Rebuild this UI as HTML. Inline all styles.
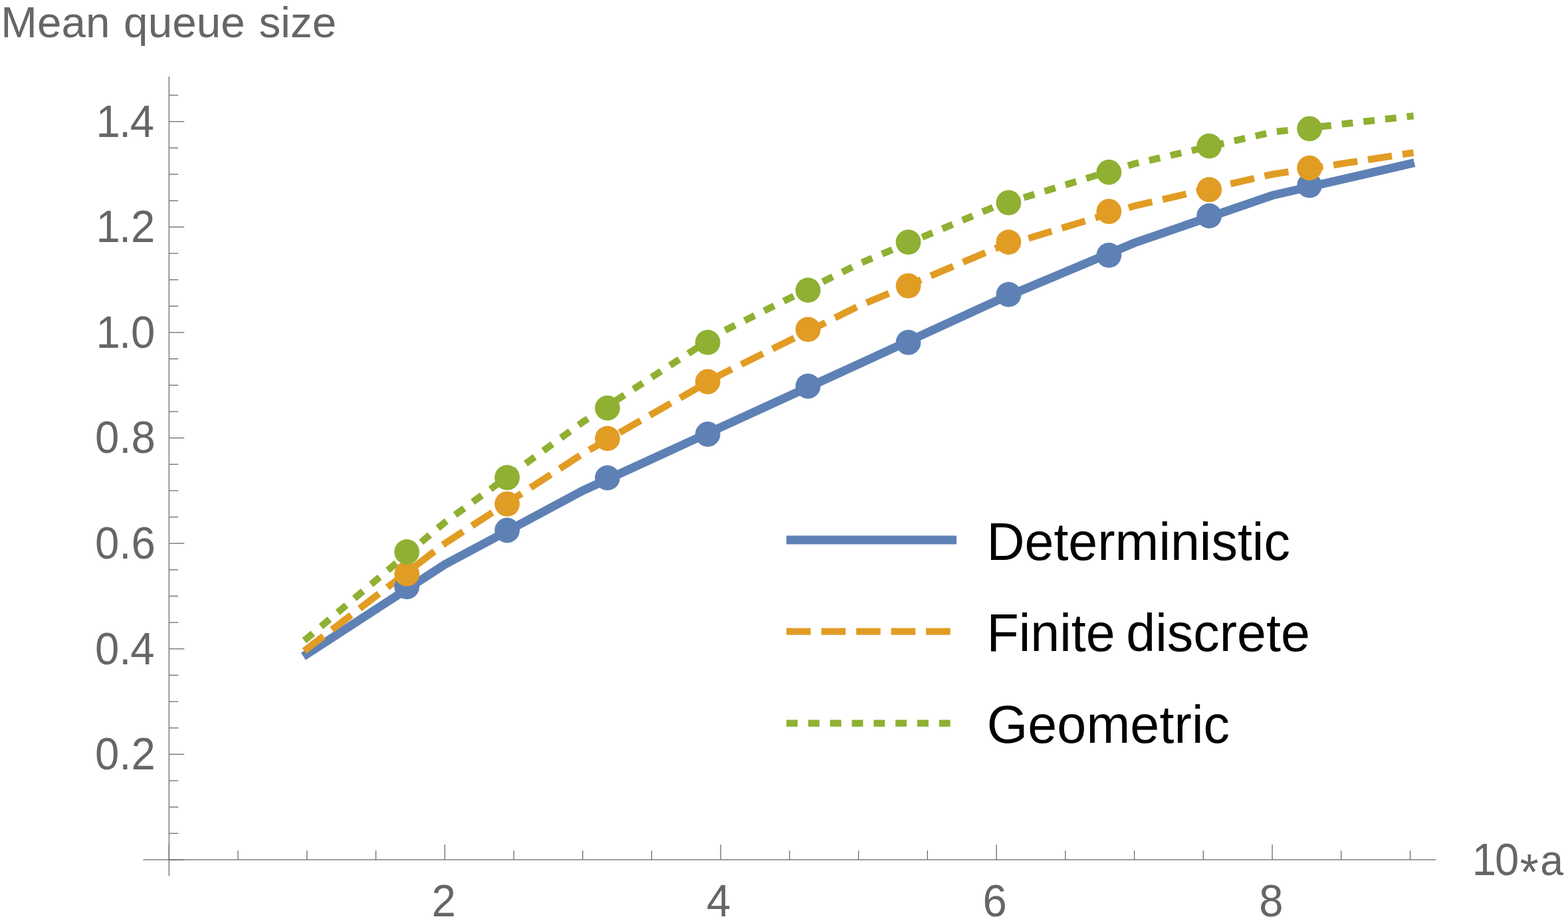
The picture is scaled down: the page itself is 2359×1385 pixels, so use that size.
<!DOCTYPE html>
<html lang="en"><head><meta charset="utf-8"><title>Mean queue size</title>
<style>
html,body{margin:0;padding:0;background:#fff;}
body{width:2359px;height:1385px;overflow:hidden;}
svg{display:block;}
text{font-family:"Liberation Sans",sans-serif;}
.tk{font-size:65.3px;fill:#666666;}
.tt{font-size:65.5px;fill:#666666;}
.lg{font-size:79px;fill:#000;}
</style></head><body>
<svg width="2359" height="1385" viewBox="0 0 2359 1385">
<rect width="2359" height="1385" fill="#fff"/>

<g stroke="#666666" stroke-width="1.25" fill="none" stroke-linecap="butt">
<line x1="215.3" y1="1292.90" x2="2160.2" y2="1292.90"/>
<line x1="254.30" y1="115" x2="254.30" y2="1316.9"/>
<line x1="254.30" y1="1292.90" x2="254.30" y2="1270.00"/>
<line x1="358.04" y1="1292.90" x2="358.04" y2="1279.00"/>
<line x1="461.77" y1="1292.90" x2="461.77" y2="1279.00"/>
<line x1="565.50" y1="1292.90" x2="565.50" y2="1279.00"/>
<line x1="669.24" y1="1292.90" x2="669.24" y2="1270.00"/>
<line x1="772.97" y1="1292.90" x2="772.97" y2="1279.00"/>
<line x1="876.71" y1="1292.90" x2="876.71" y2="1279.00"/>
<line x1="980.44" y1="1292.90" x2="980.44" y2="1279.00"/>
<line x1="1084.18" y1="1292.90" x2="1084.18" y2="1270.00"/>
<line x1="1187.91" y1="1292.90" x2="1187.91" y2="1279.00"/>
<line x1="1291.65" y1="1292.90" x2="1291.65" y2="1279.00"/>
<line x1="1395.38" y1="1292.90" x2="1395.38" y2="1279.00"/>
<line x1="1499.12" y1="1292.90" x2="1499.12" y2="1270.00"/>
<line x1="1602.86" y1="1292.90" x2="1602.86" y2="1279.00"/>
<line x1="1706.59" y1="1292.90" x2="1706.59" y2="1279.00"/>
<line x1="1810.33" y1="1292.90" x2="1810.33" y2="1279.00"/>
<line x1="1914.06" y1="1292.90" x2="1914.06" y2="1270.00"/>
<line x1="2017.79" y1="1292.90" x2="2017.79" y2="1279.00"/>
<line x1="2121.53" y1="1292.90" x2="2121.53" y2="1279.00"/>
<line x1="254.30" y1="1292.90" x2="277.20" y2="1292.90"/>
<line x1="254.30" y1="1253.26" x2="268.20" y2="1253.26"/>
<line x1="254.30" y1="1213.61" x2="268.20" y2="1213.61"/>
<line x1="254.30" y1="1173.97" x2="268.20" y2="1173.97"/>
<line x1="254.30" y1="1134.32" x2="277.20" y2="1134.32"/>
<line x1="254.30" y1="1094.68" x2="268.20" y2="1094.68"/>
<line x1="254.30" y1="1055.03" x2="268.20" y2="1055.03"/>
<line x1="254.30" y1="1015.38" x2="268.20" y2="1015.38"/>
<line x1="254.30" y1="975.74" x2="277.20" y2="975.74"/>
<line x1="254.30" y1="936.10" x2="268.20" y2="936.10"/>
<line x1="254.30" y1="896.45" x2="268.20" y2="896.45"/>
<line x1="254.30" y1="856.81" x2="268.20" y2="856.81"/>
<line x1="254.30" y1="817.16" x2="277.20" y2="817.16"/>
<line x1="254.30" y1="777.52" x2="268.20" y2="777.52"/>
<line x1="254.30" y1="737.87" x2="268.20" y2="737.87"/>
<line x1="254.30" y1="698.23" x2="268.20" y2="698.23"/>
<line x1="254.30" y1="658.58" x2="277.20" y2="658.58"/>
<line x1="254.30" y1="618.94" x2="268.20" y2="618.94"/>
<line x1="254.30" y1="579.29" x2="268.20" y2="579.29"/>
<line x1="254.30" y1="539.65" x2="268.20" y2="539.65"/>
<line x1="254.30" y1="500.00" x2="277.20" y2="500.00"/>
<line x1="254.30" y1="460.36" x2="268.20" y2="460.36"/>
<line x1="254.30" y1="420.71" x2="268.20" y2="420.71"/>
<line x1="254.30" y1="381.07" x2="268.20" y2="381.07"/>
<line x1="254.30" y1="341.42" x2="277.20" y2="341.42"/>
<line x1="254.30" y1="301.78" x2="268.20" y2="301.78"/>
<line x1="254.30" y1="262.13" x2="268.20" y2="262.13"/>
<line x1="254.30" y1="222.49" x2="268.20" y2="222.49"/>
<line x1="254.30" y1="182.84" x2="277.20" y2="182.84"/>
<line x1="254.30" y1="143.19" x2="268.20" y2="143.19"/>
</g>
<text class="tk" transform="translate(667.64 1377.80) scale(1 1.045)" text-anchor="middle">2</text>
<text class="tk" transform="translate(1081.08 1377.80) scale(1 1.045)" text-anchor="middle">4</text>
<text class="tk" transform="translate(1496.72 1377.80) scale(1 1.045)" text-anchor="middle">6</text>
<text class="tk" transform="translate(1912.46 1377.80) scale(1 1.045)" text-anchor="middle">8</text>
<text class="tk" transform="translate(143.00 1157.22) scale(1 1.045)" text-anchor="start">0.2</text>
<text class="tk" transform="translate(143.00 998.64) scale(1 1.045)" text-anchor="start">0.<tspan dx="-1.2">4</tspan></text>
<text class="tk" transform="translate(143.00 840.06) scale(1 1.045)" text-anchor="start">0.6</text>
<text class="tk" transform="translate(143.00 681.48) scale(1 1.045)" text-anchor="start">0.8</text>
<text class="tk" transform="translate(142.60 522.90) scale(1 1.045)" text-anchor="start"><tspan dx="1.8" letter-spacing="-1.8">1</tspan>.0</text>
<text class="tk" transform="translate(142.60 364.32) scale(1 1.045)" text-anchor="start"><tspan dx="1.8" letter-spacing="-1.8">1</tspan>.2</text>
<text class="tk" transform="translate(142.60 205.74) scale(1 1.045)" text-anchor="start"><tspan dx="1.8" letter-spacing="-1.8">1</tspan>.<tspan dx="-1.2">4</tspan></text>
<text class="tt" x="1.23" y="55.8" letter-spacing="0.1" word-spacing="2.35">Mean queue size</text>
<text class="tk" transform="translate(2214.80 1315.80) scale(1 1.045)" text-anchor="start"><tspan letter-spacing="-2.15">1</tspan>0<tspan font-size="72" dx="1.5" dy="19.86">*</tspan><tspan font-size="62.5" dx="2.45" dy="-19.86">a</tspan></text>
<g fill="none" stroke-linejoin="miter" stroke-linecap="butt">
<polyline points="456.37,987.18 669.24,848.88 876.71,737.87 1084.18,642.72 1291.65,547.57 1499.12,452.43 1706.59,365.21 1914.06,293.85 2127.80,244.83" stroke="#5E81B5" stroke-width="12.875"/>
<polyline points="457.68,978.87 669.24,817.16 876.71,682.37 1084.18,563.43 1291.65,460.36 1499.12,373.14 1706.59,309.70 1914.06,262.13 2126.62,229.64" stroke="#E19C24" stroke-width="10.300" stroke-dasharray="36.55 15.95"/>
<polyline points="457.83,963.20 669.24,785.44 876.71,634.79 1084.18,500.00 1291.65,396.92 1499.12,309.70 1706.59,246.27 1914.06,198.70 2126.65,174.32" stroke="#8FB032" stroke-width="10.300" stroke-dasharray="16.86 15.9525"/>
</g>
<circle cx="612.09" cy="882.40" r="18.90" fill="#5E81B5"/>
<circle cx="762.98" cy="797.50" r="18.90" fill="#5E81B5"/>
<circle cx="913.87" cy="718.60" r="18.90" fill="#5E81B5"/>
<circle cx="1064.76" cy="653.00" r="18.90" fill="#5E81B5"/>
<circle cx="1215.65" cy="580.70" r="18.90" fill="#5E81B5"/>
<circle cx="1366.54" cy="514.95" r="18.90" fill="#5E81B5"/>
<circle cx="1517.43" cy="442.90" r="18.90" fill="#5E81B5"/>
<circle cx="1668.32" cy="383.87" r="18.90" fill="#5E81B5"/>
<circle cx="1819.21" cy="324.60" r="18.90" fill="#5E81B5"/>
<circle cx="1970.10" cy="278.80" r="18.90" fill="#5E81B5"/>
<circle cx="612.09" cy="862.90" r="18.90" fill="#E19C24"/>
<circle cx="762.98" cy="757.80" r="18.90" fill="#E19C24"/>
<circle cx="913.87" cy="659.40" r="18.90" fill="#E19C24"/>
<circle cx="1064.76" cy="574.00" r="18.90" fill="#E19C24"/>
<circle cx="1215.65" cy="495.40" r="18.90" fill="#E19C24"/>
<circle cx="1366.54" cy="429.80" r="18.90" fill="#E19C24"/>
<circle cx="1517.43" cy="364.10" r="18.90" fill="#E19C24"/>
<circle cx="1668.32" cy="318.00" r="18.90" fill="#E19C24"/>
<circle cx="1819.21" cy="285.20" r="18.90" fill="#E19C24"/>
<circle cx="1970.10" cy="252.60" r="18.90" fill="#E19C24"/>
<circle cx="612.09" cy="829.90" r="18.90" fill="#8FB032"/>
<circle cx="762.98" cy="718.20" r="18.90" fill="#8FB032"/>
<circle cx="913.87" cy="613.60" r="18.90" fill="#8FB032"/>
<circle cx="1064.76" cy="514.90" r="18.90" fill="#8FB032"/>
<circle cx="1215.65" cy="436.40" r="18.90" fill="#8FB032"/>
<circle cx="1366.54" cy="364.10" r="18.90" fill="#8FB032"/>
<circle cx="1517.43" cy="304.80" r="18.90" fill="#8FB032"/>
<circle cx="1668.32" cy="259.00" r="18.90" fill="#8FB032"/>
<circle cx="1819.21" cy="219.60" r="18.90" fill="#8FB032"/>
<circle cx="1970.10" cy="193.55" r="18.90" fill="#8FB032"/>
<line x1="1183.15" y1="811.95" x2="1439.03" y2="811.95" stroke="#5E81B5" stroke-width="12.875"/>
<line x1="1183.15" y1="949.65" x2="1439.03" y2="949.65" stroke="#E19C24" stroke-width="10.300" stroke-dasharray="36.55 15.95"/>
<line x1="1183.15" y1="1087.6" x2="1439.03" y2="1087.6" stroke="#8FB032" stroke-width="10.300" stroke-dasharray="16.86 15.9525"/>
<text class="lg" x="1484.4" y="842.2">Deterministic</text>
<text class="lg" x="1484.4" y="978.7" word-spacing="-5.2">Finite discrete</text>
<text class="lg" x="1484.7" y="1117.1" letter-spacing="0.13">Geometric</text>
</svg>
</body></html>
